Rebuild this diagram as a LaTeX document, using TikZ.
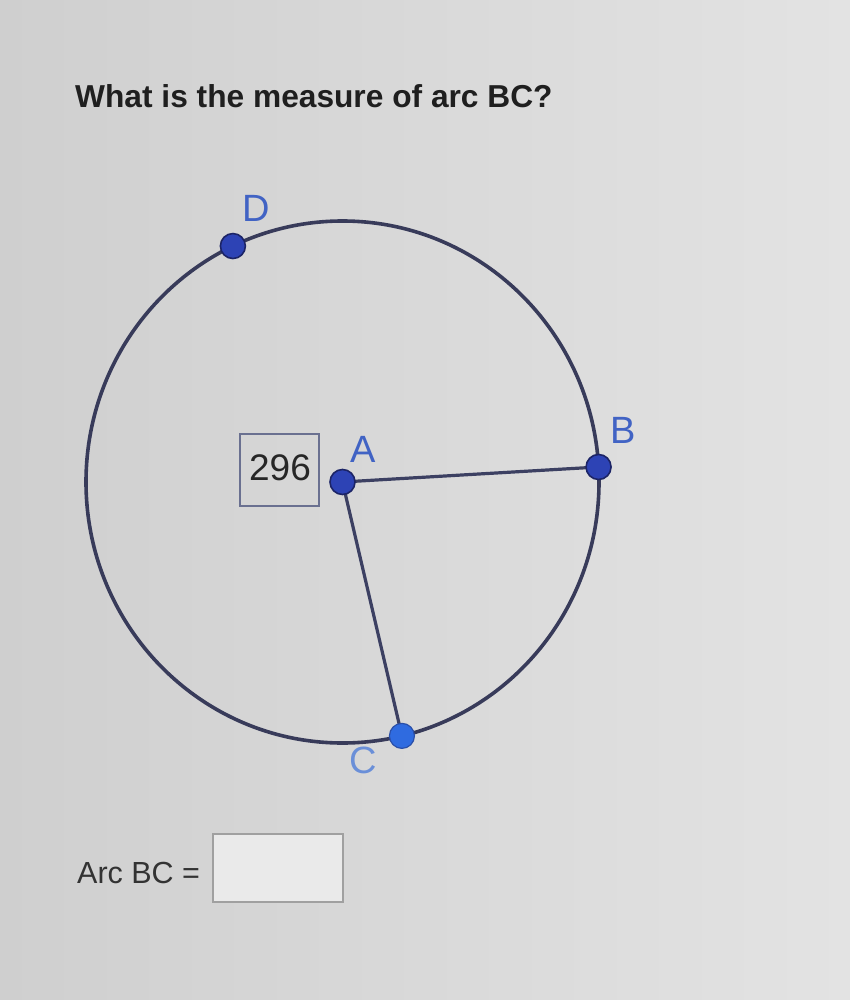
\documentclass[tikz,border=0pt]{standalone}
\usepackage{fontspec}
\setmainfont{Liberation Sans}
\usetikzlibrary{calc}
\definecolor{bgL}{HTML}{CFCFCF}
\definecolor{bgR}{HTML}{E3E3E3}
\definecolor{circcol}{HTML}{383B5A}
\definecolor{segcol}{HTML}{3C4062}
\definecolor{dotfill}{HTML}{2D43B5}
\definecolor{dotedge}{HTML}{1C2466}
\definecolor{cfill}{HTML}{2F6BE0}
\definecolor{cedge}{HTML}{2A4FA8}
\definecolor{lblcol}{HTML}{4163C4}
\definecolor{clblcol}{HTML}{6A8FD8}
\definecolor{boxcol}{HTML}{6A7090}
\definecolor{inbox}{HTML}{A0A0A0}
\tikzset{
  circline/.style={draw=circcol, line width=3.6pt},
  segline/.style={draw=segcol, line width=3.2pt},
  gdot/.style={circle, fill=dotfill, draw=dotedge, line width=1.6pt, minimum size=25pt, inner sep=0pt},
  cdot/.style={circle, fill=cfill, draw=cedge, line width=1.2pt, minimum size=25pt, inner sep=0pt},
  ptlabel/.style={text=lblcol, font=\fontsize{38}{40}\selectfont, inner sep=0pt, anchor=base},
  title/.style={text=black!88, font=\fontsize{31.7}{34}\selectfont\bfseries, inner sep=0pt, anchor=base west},
  answer/.style={text=black!80, font=\fontsize{30.5}{33}\selectfont, inner sep=0pt, anchor=base west},
}
\begin{document}
\begin{tikzpicture}[x=1pt,y=-1pt]
\shade[left color=bgL, right color=bgR] (0,0) rectangle (850,1000);
\useasboundingbox (0,0) rectangle (850,1000);
\node[title] (q) at (75,108) {What is the measure of arc BC?};
\coordinate (o) at (342.5,482);
\draw[circline] (o) ellipse [x radius=256.5pt, y radius=261pt];
\coordinate (b) at ($(o)+(3.3:256.5pt and 261pt)$);
\coordinate (c) at ($(o)+(-76.6:256.5pt and 261pt)$);
\coordinate (d) at ($(o)+(115.3:256.5pt and 261pt)$);
\draw[segline] (o) -- (b);
\draw[segline] (o) -- (c);
\node[gdot] (A) at (o) {};
\node[gdot] (B) at (b) {};
\node[gdot] (D) at (d) {};
\node[cdot] (C) at (c) {};
\node[ptlabel] (lD) at (256.5,222) {D};
\node[ptlabel] (lA) at (363.5,462) {A};
\node[ptlabel] (lB) at (623,443) {B};
\node[ptlabel, text=clblcol] (lC) at (363.5,773) {C};
\draw[draw=boxcol, line width=2.6pt] (240,434) rectangle (319,506);
\node[text=black!85, font=\fontsize{37}{40}\selectfont, inner sep=0pt, anchor=base] (ang) at (280,480) {296};
\node[answer] (arc) at (77,883) {Arc BC =};
\draw[draw=inbox, line width=2pt, fill=white!25!bgR] (213,834) rectangle (343,902);
\end{tikzpicture}
\end{document}
